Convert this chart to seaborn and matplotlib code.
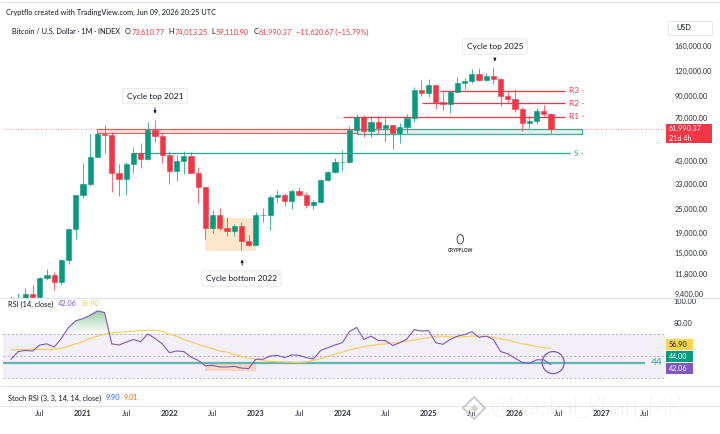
import matplotlib
matplotlib.use("Agg")
import matplotlib.pyplot as plt
import matplotlib.colors as mcolors
from matplotlib.patches import Rectangle, Ellipse
from matplotlib.lines import Line2D
from matplotlib.path import Path
from matplotlib.ticker import NullLocator
import numpy as np
import pandas as pd
import seaborn as sns

W, H = 720, 434

# month index: 0 = Jan 2020 -> candles Mar 2020 .. Jun 2026
months = list(range(2, 78))
opens = [8520, 6410, 8630, 9450, 9140, 11350, 11660, 10780, 13800, 19700,
         28990, 33110, 45140, 58800, 57700, 37300, 35040, 41460, 47100, 43790, 61300, 57000,
         46300, 38480, 43190, 45510, 37630, 31800, 19930, 23300, 20050, 19430, 20490, 17170,
         16540, 23130, 23150, 28480, 29250, 27220, 30480, 29230, 25940, 26970, 34650, 37720,
         42280, 42580, 61130, 71330, 60640, 67490, 62680, 64630, 58970, 63330, 70220, 96410,
         93430, 102400, 84350, 82550, 94200, 104600, 107100, 115700, 108200, 114000, 109500, 90400,
         87600, 77500, 66500, 68000, 76000, 73610.77]
highs = [9190, 9460, 10080, 10380, 11450, 12480, 12070, 14100, 19900, 29300,
         41950, 58350, 61780, 64900, 59600, 41330, 42400, 50500, 52920, 67000, 69000, 59100,
         47990, 45820, 48190, 47450, 40000, 31960, 24670, 25200, 22800, 20990, 21470, 18390,
         23950, 25250, 29200, 31000, 29820, 31390, 31860, 30230, 27480, 35200, 38400, 44700,
         48970, 63900, 73750, 72800, 71950, 71950, 70000, 65100, 66500, 73600, 99600, 108350,
         109350, 102700, 95000, 95700, 111900, 110500, 123200, 124400, 117900, 126200, 110600, 94600,
         97500, 79500, 72000, 79000, 81500, 74013.25]
lows = [3850, 6150, 8120, 8830, 8970, 10990, 9880, 10370, 13230, 17570,
        28130, 32300, 45000, 47000, 30000, 28800, 29300, 37330, 39600, 43280, 53250, 42000,
        32950, 34320, 37150, 37700, 26700, 17600, 18780, 19600, 18150, 18190, 15480, 16260,
        16500, 21350, 19550, 26950, 25810, 24800, 28860, 25170, 24900, 26560, 34100, 37600,
        38500, 41880, 59000, 56500, 56550, 58400, 53500, 49100, 52550, 58900, 66800, 90500,
        89200, 78200, 76600, 74500, 93400, 98200, 105300, 107300, 107300, 103500, 80600, 84400,
        75000, 60500, 63000, 65500, 71500, 59110.90]
closes = [6410, 8630, 9450, 9140, 11350, 11660, 10780, 13800, 19700, 28990,
          33110, 45140, 58800, 57700, 37300, 35040, 41460, 47100, 43790, 61300, 57000, 46300,
          38480, 43190, 45510, 37630, 31800, 19930, 23300, 20050, 19430, 20490, 17170, 16540,
          23130, 23150, 28480, 29250, 27220, 30480, 29230, 25940, 26970, 34650, 37720, 42280,
          42580, 61130, 71330, 60640, 67490, 62680, 64630, 58970, 63330, 70220, 96410, 93430,
          102400, 84350, 82550, 94200, 104600, 107100, 115700, 108200, 114000, 109500, 90400, 87600,
          77500, 66500, 68000, 76000, 73610, 61990.37]

rsi = [47, 54, 55, 54.5, 60, 61, 58, 66, 76, 82,
       84, 87, 91, 89.5, 61, 60, 62.5, 65, 63, 70, 66, 61,
       53, 54.5, 54, 49, 46, 41, 41.5, 40, 40, 40.5, 39, 38.5,
       47, 47, 50, 50.5, 48.5, 51, 50.6, 48.5, 47.3, 55, 57.5, 60,
       62, 72, 76, 65, 68, 64, 64, 59.5, 62, 65.5, 74, 72.7,
       73, 62, 60.6, 65, 68, 69.5, 72, 67, 68, 65, 54, 52,
       48, 44, 43.5, 46.5, 46.5, 42.06]
rsi_ma = [55.5, 55.7, 55.8, 56, 56, 56, 56, 57, 59, 61,
          63, 66, 68, 70, 71, 71.5, 72, 72.5, 73, 73.3, 73.5, 72.5,
          70, 68, 65, 63, 60.5, 58.5, 56.5, 54.5, 53.5, 51.5, 49.5, 48,
          47, 46, 45, 44.7, 44.5, 44.2, 44, 44.5, 46, 47.5, 49.5, 51.5,
          53.5, 55.5, 57, 58.5, 59.5, 60.5, 61, 61.8, 62.5, 63.5, 64.5, 65.5,
          66.5, 68, 68, 67.5, 67, 67.5, 68, 68, 68, 67, 65.5, 64.5,
          62.5, 61, 60, 58.5, 57.5, 56.9]

price_ticks = [160000, 120000, 90000, 70000, 43000, 33000, 25000, 19000, 15000, 11800, 9400]
x_ticks = [6, 12, 18, 24, 30, 36, 42, 48, 54, 60, 66, 72, 78, 84, 90]
x_labels = ['Jul', '2021', 'Jul', '2022', 'Jul', '2023', 'Jul', '2024', 'Jul', '2025',
            'Jul', '2026', 'Jul', '2027', 'Jul']

last_price = 61990.37
r1, r2, r3, s_level = 71100, 83400, 96000, 47100
top_zone = (59000, 61750)
hold_zone = (58700, 61750)
bottom_zone = (15370, 22400)

GREEN = '#089981'
RED = '#f23645'
PURPLE = '#7e57c2'
YELLOW = '#f5cc4f'
TEXT = '#131722'
TEAL = '#22ab94'

sns.set_theme(style='white')
plt.rcParams['font.family'] = ['Lato', 'DejaVu Sans']

fig = plt.figure(figsize=(7.2, 4.34), dpi=100)


def fx(x):
    return x / W


def fy(y):
    return 1 - y / H


X0, X1 = 3, 665
XLIM = (0.89, 92.83)
ax = fig.add_axes([fx(X0), fy(298), fx(X1) - fx(X0), fy(20) - fy(298)])
ax_rsi = fig.add_axes([fx(X0), fy(386), fx(X1) - fx(X0), fy(298) - fy(386)])
ax_st = fig.add_axes([fx(X0), fy(406), fx(X1) - fx(X0), fy(386) - fy(406)])

# ---- candles
df = pd.DataFrame({'m': months, 'o': opens, 'h': highs, 'l': lows, 'c': closes})
cols = np.where(df['c'] >= df['o'], GREEN, RED)
ax.vlines(df['m'], df['l'], df['h'], colors=cols, lw=0.7, alpha=0.75, zorder=3)
ax.bar(df['m'], (df['c'] - df['o']).abs(), bottom=df[['o', 'c']].min(axis=1),
       width=0.72, color=cols, edgecolor=cols, lw=0.4, zorder=4)

ax.set_yscale('log')
ax.set_ylim(8985, 215360)
ax.set_xlim(*XLIM)
ax.set_yticks(price_ticks)
ax.set_yticklabels([f'{p:,.2f}' for p in price_ticks])
ax.yaxis.set_minor_locator(NullLocator())
ax.yaxis.tick_right()
ax.tick_params(axis='y', length=0, pad=7, labelsize=5.3, labelcolor='#2a2e39')
ax.set_xticks([])

# zones and levels
ax.add_patch(Rectangle((14, top_zone[0]), 36.5, top_zone[1] - top_zone[0],
                       fc=RED, alpha=0.18, ec='none', zorder=2))
ax.hlines(top_zone, 14, 50.5, color=RED, lw=0.8, alpha=0.8, zorder=2)
ax.add_patch(Rectangle((50, hold_zone[0]), 31.3, hold_zone[1] - hold_zone[0],
                       fc='#d8f1ec', ec=TEAL, lw=0.9, alpha=0.9, zorder=2))
ax.add_patch(Rectangle((29, bottom_zone[0]), 7, bottom_zone[1] - bottom_zone[0],
                       fc='#fde3c4', ec='none', alpha=0.85, zorder=1))
ax.axhline(last_price, color=RED, lw=0.6, ls=(0, (1, 2)), alpha=0.7, zorder=2)

for lvl, start, lab in [(r1, 48.1, 'R1'), (r2, 59.1, 'R2'), (r3, 61.6, 'R3')]:
    ax.hlines(lvl, start, 78.9, color=RED, lw=0.9, zorder=2)
    ax.text(79.5, lvl, lab + ' -', color=RED, fontsize=6, va='center', ha='left')
ax.hlines(s_level, 19, 79.6, color=TEAL, lw=0.9, zorder=2)
ax.text(80.2, s_level, 'S -', color=TEAL, fontsize=6, va='center', ha='left')

# callouts
box = dict(boxstyle='round,pad=0.5,rounding_size=0.25', fc='white', ec='#e3e5ea', lw=0.6)
arr = dict(arrowstyle='-|>', color=TEXT, lw=0.6, mutation_scale=4)
ax.text(22, 90340, 'Cycle top 2021', fontsize=6, color=TEXT, ha='center', va='center', bbox=box, zorder=6)
ax.annotate('', xy=(22, 71500), xytext=(22, 81700), arrowprops=arr)
ax.text(34, 11230, 'Cycle bottom 2022', fontsize=6, color=TEXT, ha='center', va='center', bbox=box, zorder=6)
ax.annotate('', xy=(34.1, 14400), xytext=(34.1, 12640), arrowprops=arr)
ax.text(69.2, 159100, 'Cycle top 2025', fontsize=6, color=TEXT, ha='center', va='center', bbox=box, zorder=6)
ax.annotate('', xy=(69.2, 130300), xytext=(69.2, 141000), arrowprops=arr)

# small logo
ax.add_patch(Ellipse((64.4, 17600), 0.9, 1900, fill=False, ec='#333333', lw=0.6))
ax.text(64.4, 15450, 'CRYPFLOW', fontsize=3.3, color='#333333', ha='center', va='center', fontweight='bold')

# ---- RSI pane
ax_rsi.axhspan(30, 70, color=PURPLE, alpha=0.09, lw=0)
for lvl in (70, 50, 30):
    ax_rsi.axhline(lvl, color='#9598a1', lw=0.5, ls=(0, (3, 3)))
ax_rsi.add_patch(Rectangle((29, 36.4), 7, 8.2, fc='#f9d2bf', ec='none', alpha=0.9, zorder=1))
ax_rsi.hlines(44, XLIM[0], 90.1, color='#5fb8ab', lw=1.6, zorder=2)
ax_rsi.text(90.9, 44, '44', color=TEAL, fontsize=7.5, va='center', ha='left')

m_arr = np.array(months, dtype=float)
r_arr = np.array(rsi)
ob = ax_rsi.fill_between(m_arr, 70, r_arr, where=r_arr > 70, interpolate=True, color='none', lw=0)
grad = np.zeros((100, 1, 4))
grad[..., :3] = mcolors.to_rgb('#43a35a')
grad[:, 0, 3] = np.linspace(0.0, 0.75, 100)
im = ax_rsi.imshow(grad, extent=[m_arr[0], m_arr[-1], 70, 100], origin='lower',
                   aspect='auto', zorder=2, interpolation='bilinear')
im.set_clip_path(Path.make_compound_path(*ob.get_paths()), ax_rsi.transData)

sns.lineplot(x=months, y=rsi_ma, ax=ax_rsi, color=YELLOW, lw=0.8, zorder=3)
sns.lineplot(x=months, y=rsi, ax=ax_rsi, color=PURPLE, lw=0.8, zorder=4)
ax_rsi.add_patch(Ellipse((77.3, 44), 3.06, 20, fill=False, ec=PURPLE, lw=0.9, zorder=5))

ax_rsi.set_xlim(*XLIM)
ax_rsi.set_ylim(22.7, 102.7)
ax_rsi.set_yticks([100, 80])
ax_rsi.set_yticklabels(['100.00', '80.00'])
ax_rsi.yaxis.tick_right()
ax_rsi.tick_params(axis='y', length=0, pad=6, labelsize=5.3, labelcolor='#2a2e39')
ax_rsi.set_xticks([])
ax_rsi.set_xlabel('')
ax_rsi.set_ylabel('')

# ---- stoch pane / time axis
ax_st.set_xlim(*XLIM)
ax_st.set_ylim(0, 1)
ax_st.set_yticks([])
ax_st.set_xticks(x_ticks)
ax_st.set_xticklabels(x_labels)
ax_st.tick_params(axis='x', length=0, pad=3, labelsize=5.5, labelcolor='#2a2e39')
for t in ax_st.get_xticklabels():
    if t.get_text().isdigit():
        t.set_fontweight('bold')

for a in (ax, ax_rsi, ax_st):
    for sp in a.spines.values():
        sp.set_visible(False)
    a.set_facecolor('none')

# pane separators
for yy in (2, 298, 386, 406):
    fig.add_artist(Line2D([0, 1], [fy(yy)] * 2, color='#e0e3eb', lw=0.7, transform=fig.transFigure))

# ---- text helpers
fig.canvas.draw()
renderer = fig.canvas.get_renderer()


def put_line(x, y, parts, size):
    # parts: (text, colour, gap after in px)
    for s, c, gap in parts:
        t = fig.text(fx(x), fy(y), s, color=c, fontsize=size, va='center', ha='left')
        x += t.get_window_extent(renderer).width + gap


put_line(6, 12, [('Cryptflo created with TradingView.com, Jun 09, 2026 20:25 UTC', TEXT, 0)], 5.3)
put_line(12, 32, [('Bitcoin / U.S. Dollar · 1M · INDEX', TEXT, 5), ('O', TEXT, 0.5), ('73,610.77', RED, 4),
                  ('H', TEXT, 0.5), ('74,013.25', RED, 4), ('L', TEXT, 0.5), ('59,110.90', RED, 4),
                  ('C', TEXT, 0.5), ('61,990.37', RED, 4), ('−11,620.67 (−15.79%)', RED, 0)], 5.3)
put_line(8, 304, [('RSI (14, close)', TEXT, 4), ('42.06', PURPLE, 4), ('56.90', YELLOW, 0)], 5.3)
put_line(8, 398, [('Stoch RSI (3, 3, 14, 14, close)', TEXT, 4), ('9.90', '#2962ff', 4),
                  ('9.01', '#ff6d00', 0)], 5.3)


def tag(y0, y1, fc, lines, tc='white', ec='none', x0=666, x1=712, tx=None):
    fig.add_artist(Rectangle((fx(x0), fy(y1)), fx(x1) - fx(x0), fy(y0) - fy(y1),
                             fc=fc, ec=ec, lw=0.6, transform=fig.transFigure))
    n = len(lines)
    for k, s in enumerate(lines):
        yy = y0 + (y1 - y0) * (k + 0.5) / n
        fig.text(fx(tx if tx else x0 + 3), fy(yy), s, color=tc, fontsize=5.2, va='center', ha='left')


tag(21, 35, 'white', ['USD'], tc=TEXT, ec='#e0e3eb', x0=668, tx=676)
tag(124, 143, RED, ['61,990.37', '21d 4h'])
tag(339, 350, '#f7d64a', ['56.90'], tc=TEXT, x1=693)
tag(351, 362, GREEN, ['44.00'], x1=693)
tag(362.5, 374, PURPLE, ['42.06'], x1=693)

# watermark (sits over the time axis, as in the screenshot)
fig.add_artist(Line2D([fx(474)], [fy(408)], marker='D', ms=11, mfc='none', mec='#c8c8c8',
                      mew=1.3, transform=fig.transFigure))
fig.add_artist(Line2D([fx(474)], [fy(408)], marker='D', ms=4, mfc='#d4d4d4', mec='none',
                      transform=fig.transFigure))
fig.text(fx(490), fy(407), '@Mashal_Khan_MK', fontsize=16.5, color='#c9c9c9', alpha=0.9,
         fontweight='light', va='center', ha='left')

fig.savefig('out.png', dpi=100)
